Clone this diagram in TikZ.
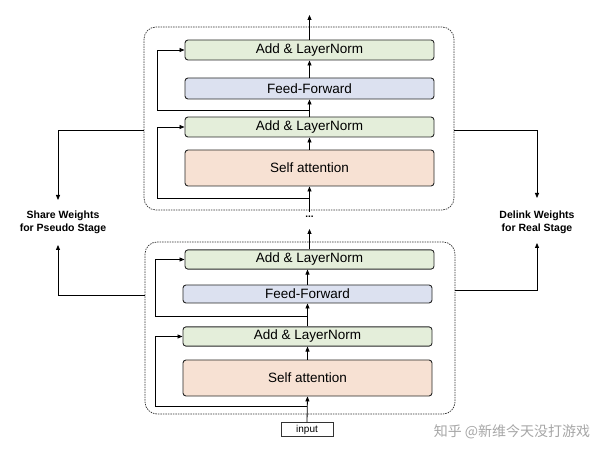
\documentclass[tikz,border=0pt]{standalone}
\usepackage{fontspec}
\setmainfont{Liberation Sans}
\newfontfamily\cjk{Noto Sans CJK SC}
\usetikzlibrary{arrows.meta}
\definecolor{gr}{HTML}{E4EEDA}
\definecolor{bl}{HTML}{DCE1F0}
\definecolor{og}{HTML}{F7E1D3}
\begin{document}
\begin{tikzpicture}[x=1pt,y=-1pt,
 blk/.style={draw=black!85,rounded corners=3pt,line width=0.9pt,font=\fontsize{13.5}{15}\selectfont},
 grp/.style={draw=black!80,dashed,dash pattern=on 1.5pt off 1pt,rounded corners=12pt,line width=0.7pt},
 ar/.style={-{Triangle[length=5pt,width=4pt]},line width=0.8pt},
 lab/.style={font=\bfseries\fontsize{10.5}{13}\selectfont,align=center}]
\useasboundingbox (0,0) rectangle (600,454);
% top block
\draw[grp] (144,27) rectangle (454,210);
\node[blk,fill=gr,minimum width=249pt,minimum height=20pt] (a1) at (309.5,50) {Add \& LayerNorm};
\node[blk,fill=bl,minimum width=249pt,minimum height=21pt] (f1) at (309.5,88.5) {Feed-Forward};
\node[blk,fill=gr,minimum width=249pt,minimum height=20pt] (b1) at (309.5,127) {Add \& LayerNorm};
\node[blk,fill=og,minimum width=249pt,minimum height=36pt] (s1) at (309.5,168) {Self attention};
\coordinate (t1) at (309.5,15);
\node[font=\bfseries] (dots) at (309.5,217) {...};
% bottom block
\draw[grp] (145,242) rectangle (455,414);
\node[blk,fill=gr,minimum width=249pt,minimum height=19pt] (a2) at (309.5,259.5) {Add \& LayerNorm};
\node[blk,fill=bl,minimum width=249pt,minimum height=18pt] (f2) at (307.5,294) {Feed-Forward};
\node[blk,fill=gr,minimum width=249pt,minimum height=19pt] (b2) at (307.5,336.5) {Add \& LayerNorm};
\node[blk,fill=og,minimum width=249pt,minimum height=36pt] (s2) at (307.5,378) {Self attention};
\node[draw=black!80,line width=0.7pt,minimum width=52pt,minimum height=14pt,inner sep=0pt,font=\fontsize{10}{11}\selectfont] (in) at (307,429.5) {input};
% flows top
\draw[ar] (a1.north) -- (t1);
\draw[ar] (f1.north) -- (a1.south);
\draw[ar] (b1.north) -- (f1.south);
\draw[ar] (s1.north) -- (b1.south);
\draw[ar] (309.5,212) -- (s1.south);
\draw[ar] (309.5,110) -| (157,50) -- (a1.west);
\draw[ar] (309.5,198) -| (157,127) -- (b1.west);
% flows bottom
\draw[ar] (a2.north) -- (309.5,229);
\draw[ar] (f2.north) -- (f2.north|-a2.south);
\draw[ar] (b2.north) -- (b2.north|-f2.south);
\draw[ar] (s2.north) -- (b2.south);
\draw[ar] (in.north) -- (s2.south);
\draw[ar] (307.5,316) -| (155,259.5) -- (a2.west);
\draw[ar] (307,406) -| (155,336.5) -- (b2.west);
% side
\node[lab] (sw) at (63,222) {Share Weights\\for Pseudo Stage};
\node[lab] (dw) at (537,222) {Delink Weights\\for Real Stage};
\draw[ar] (144,130) -| (58,200);
\draw[ar] (145,295) -| (58,245);
\draw[ar] (454,130) -| (537,198);
\draw[ar] (455,290) -| (537,243);
\node[text=black!35,font=\cjk\fontsize{14}{16}\selectfont] (wm) at (512,432) {知乎 @新维今天没打游戏};
\end{tikzpicture}
\end{document}
